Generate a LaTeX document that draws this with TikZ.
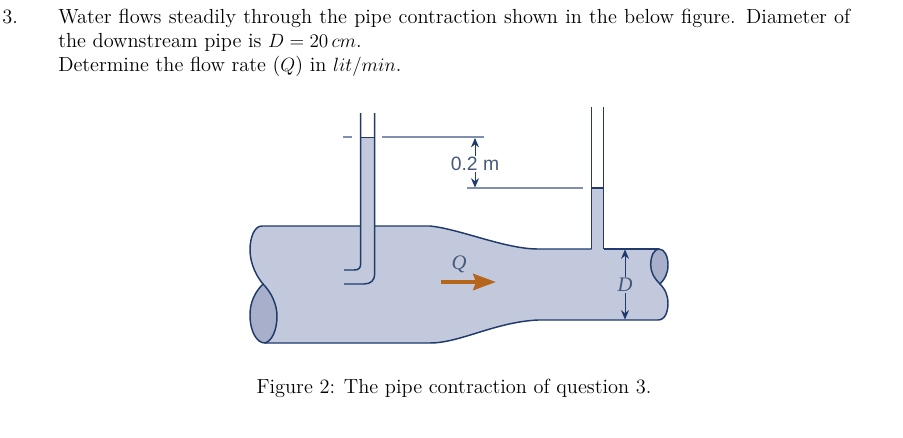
\documentclass[tikz,border=0pt]{standalone}
\usepackage{amsmath}
\usepackage{fontspec}
\usepackage{tikz}
\usetikzlibrary{arrows.meta}
\setmainfont{lmroman12-regular}[Extension=.otf,Ligatures=TeX]
\DeclareMathSizes{15.3}{15}{11}{9}
\newfontfamily\figfont{Liberation Sans}
\newfontfamily\symfont{Liberation Serif}
\definecolor{pipeline}{HTML}{1F3A6B}
\definecolor{pipefill}{HTML}{C3C9DD}
\definecolor{endfill}{HTML}{A8AFCB}
\definecolor{dimline}{HTML}{7F8FAF}
\definecolor{flowarrow}{HTML}{B5661A}
\definecolor{labeltext}{HTML}{45597C}
\pgfdeclarelayer{background}
\pgfdeclarelayer{foreground}
\pgfsetlayers{background,main,foreground}
\tikzset{
  wall/.style={draw=pipeline,line width=1.1pt},
  dimrule/.style={draw=dimline,line width=0.8pt},
  dimarrow/.style={draw=pipeline,line width=0.7pt,-{Stealth[length=7pt,width=6pt]}},
  bodytext/.style={anchor=base west,inner sep=0pt,font=\fontsize{15.3}{18}\selectfont},
  figlabel/.style={inner sep=1pt,text=labeltext}
}
\begin{document}
\begin{tikzpicture}[x=0.75pt,y=-0.75pt]
\useasboundingbox (0,0) rectangle (903,437);
% question text
\node[bodytext] (num) at (2,23) {3.};
\node[bodytext] (lineone) at (58,23) {\hbox to 594pt{Water flows steadily through the pipe contraction shown in the below figure. Diameter of}};
\node[bodytext] (linetwo) at (58,47) {the downstream pipe is $D=20\,cm$.};
\node[bodytext] (linethree) at (58,71) {Determine the flow rate ($Q$) in $lit/min$.};
\node[bodytext,anchor=base] (caption) at (454,393) {Figure 2: The pipe contraction of question 3.};
% pipe body
\begin{pgfonlayer}{background}
\fill[pipefill] (262,226) -- (430,226) .. controls (460,229) and (505,249) .. (538,249) -- (659,249) -- (668,265) -- (660,284) .. controls (666,290) and (668,297) .. (668,303) .. controls (668,312) and (665,320) .. (658,320) -- (538,320) .. controls (495,322) and (460,343) .. (430,343) -- (265,343) -- (263,284) .. controls (257,277) and (250,264) .. (250,250) .. controls (250,238) and (254,226) .. (262,226) -- cycle;
\fill[pipefill] (360.7,137.5) rectangle (374.7,240);
\fill[pipefill] (591.7,188) rectangle (603.7,255);
\filldraw[wall,fill=endfill] (263,284) .. controls (255,292) and (250,302) .. (250,315) .. controls (250,332) and (257,343) .. (265,343) .. controls (272,341) and (277,330) .. (277,316) .. controls (277,304) and (271,292) .. (263,284) -- cycle;
\filldraw[wall,fill=endfill] (660,284) .. controls (654,278) and (650.7,272) .. (650.7,265) .. controls (650.7,256) and (654,249) .. (659,249) .. controls (665,249) and (668,257) .. (668,265) .. controls (668,273) and (665,279) .. (660,284) -- cycle;
\end{pgfonlayer}
% pipe walls
\draw[wall] (360.7,226) -- (262,226) .. controls (254,226) and (250,238) .. (250,250) .. controls (250,264) and (257,277) .. (263,284);
\draw[wall] (374.7,226) -- (430,226) .. controls (460,229) and (505,249) .. (538,249) -- (591.7,249);
\draw[wall] (603.7,249) -- (659,249);
\draw[wall] (265,343) -- (430,343) .. controls (460,343) and (495,322) .. (538,320) -- (658,320) .. controls (665,320) and (668,312) .. (668,303) .. controls (668,297) and (666,290) .. (660,284);
% piezometer tubes
\draw[wall] (360.7,113) -- (360.7,263) .. controls (360.7,268) and (359,270) .. (354,270) -- (344,270);
\draw[wall] (374.7,113) -- (374.7,274) .. controls (374.7,280) and (371,284) .. (364,284) -- (344,284);
\draw[wall] (360.7,137.5) -- (374.7,137.5);
\draw[wall] (591.7,107) -- (591.7,249);
\draw[wall] (603.7,107) -- (603.7,249);
\draw[wall,line width=0.8pt] (591.7,188) -- (603.7,188);
% levels and dimensions
\coordinate (lefttickA) at (343,137);
\coordinate (lefttickB) at (352,137);
\coordinate (upperA) at (382,137);
\coordinate (upperB) at (484,137);
\coordinate (lowerA) at (467,188);
\coordinate (lowerB) at (583,188);
\draw[dimrule] (lefttickA) -- (lefttickB);
\draw[dimrule] (upperA) -- (upperB);
\draw[dimrule] (lowerA) -- (lowerB);
\node[figlabel,font=\figfont\fontsize{14.5}{16}\selectfont] (height) at (475,164) {0.2 m};
\coordinate (heighttop) at (475,138);
\coordinate (heightbot) at (475,187.5);
\draw[dimarrow] (height.north -| heighttop) -- (heighttop);
\draw[dimarrow] (height.south -| heightbot) -- (heightbot);
\node[figlabel,font=\symfont\itshape\fontsize{15.5}{16}\selectfont] (diam) at (625,285) {D};
\coordinate (diamtop) at (625,249.5);
\coordinate (diambot) at (625,319.5);
\draw[dimarrow] (diam.north) -- (diamtop);
\draw[dimarrow] (diam.south) -- (diambot);
% flow arrow
\node[figlabel,font=\symfont\itshape\fontsize{15.5}{16}\selectfont] (flow) at (459,264) {Q};
\coordinate (flowtail) at (441,282);
\coordinate (flowhead) at (496,282);
\draw[flowarrow,line width=3.2pt,-{Triangle[length=17pt,width=12pt,inset=2pt]}] (flowtail) -- (flowhead);
\end{tikzpicture}
\end{document}
